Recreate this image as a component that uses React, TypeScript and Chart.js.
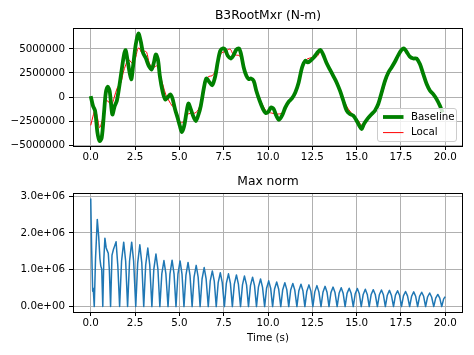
import React, { useEffect, useRef } from "react";
import { Chart, registerables } from "chart.js";

Chart.register(...registerables);

const FONT = "'DejaVu Sans', sans-serif";

const topTitle = "B3RootMxr (N-m)";
const bottomTitle = "Max norm";
const xAxisTitle = "Time (s)";
const seriesNames = ["Baseline", "Local"];
const xTicks = [0, 2.5, 5, 7.5, 10, 12.5, 15, 17.5, 20];
const topYTicks = [-5000000, -2500000, 0, 2500000, 5000000];
const bottomYTicks = [0, 1000000, 2000000, 3000000];

// [time (s), moment (MN-m)]
const baselineMNm: [number, number][] = [
  [0, 0.1], [0.13, -0.93], [0.25, -1.45], [0.38, -3.7], [0.5, -4.55], [0.62, -4.2], [0.75, -1.6], [0.85, 0.45],
  [0.96, 1.07], [1.07, 0.6], [1.22, -1.8], [1.35, -0.93], [1.47, -0.4], [1.6, 0.97], [1.75, 2.86], [1.88, 4.4],
  [1.97, 4.86], [2.1, 3.55], [2.28, 1.83], [2.4, 3.38], [2.54, 5.45], [2.69, 6.59], [2.82, 5.8], [2.95, 4.59],
  [3.1, 4.07], [3.26, 3.28], [3.43, 2.86], [3.56, 3.55], [3.67, 4.42], [3.79, 3.9], [3.9, 2.17], [4.05, 0.62],
  [4.2, -0.24], [4.33, -0.07], [4.48, 0.28], [4.6, -0.07], [4.76, -1.28], [4.9, -2.14], [5.03, -3.0], [5.14, -3.62],
  [5.27, -3.0], [5.4, -1.62], [5.51, -0.66], [5.65, -1.28], [5.78, -1.97], [5.93, -2.48], [6.08, -1.8], [6.21, -0.9],
  [6.4, 1.1], [6.52, 1.93], [6.71, 1.52], [6.86, 1.24], [7.03, 2.2], [7.16, 3.59], [7.31, 4.8], [7.46, 5.04],
  [7.59, 4.9], [7.73, 4.28], [7.91, 4.0], [8.06, 4.35], [8.21, 4.9], [8.36, 5.04], [8.48, 4.45], [8.63, 3.07],
  [8.78, 2.2], [8.91, 1.86], [9.04, 1.93], [9.19, 1.69], [9.34, 0.66], [9.53, -0.38], [9.72, -1.24], [9.87, -1.66],
  [10.02, -1.52], [10.17, -1.07], [10.32, -1.24], [10.47, -1.93], [10.62, -2.35], [10.79, -1.93], [10.98, -1.07],
  [11.17, -0.48], [11.35, -0.14], [11.54, 0.48], [11.73, 1.52], [11.92, 3.07], [12.1, 3.76], [12.24, 3.59],
  [12.39, 3.76], [12.58, 4.1], [12.76, 4.55], [12.95, 4.9], [13.1, 4.45], [13.29, 3.59], [13.48, 2.9], [13.68, 2.2],
  [13.87, 1.52], [14.06, 0.66], [14.25, -0.38], [14.44, -1.41], [14.62, -1.76], [14.81, -1.93], [15.0, -2.45],
  [15.15, -2.97], [15.28, -3.31], [15.41, -2.8], [15.6, -2.28], [15.85, -1.76], [16.03, -1.41], [16.22, -0.72],
  [16.41, 0.48], [16.6, 1.69], [16.79, 2.55], [16.97, 3.07], [17.16, 3.66], [17.35, 4.35], [17.54, 4.9], [17.67, 5.04],
  [17.82, 4.69], [18.0, 4.2], [18.2, 4.0], [18.38, 4.0], [18.57, 3.42], [18.76, 2.38], [18.95, 1.35], [19.14, 0.66],
  [19.32, 0.31], [19.51, -0.21], [19.7, -0.9], [19.85, -1.6],
];

// [time (s), moment (MN-m)]
const localMNm: [number, number][] = [
  [0, -2.93], [0.13, -1.97], [0.25, -1.28], [0.38, -2.14], [0.5, -3.17], [0.66, -2.3], [0.85, -0.41], [0.96, -0.4],
  [1.07, -0.66], [1.19, -0.76], [1.32, -0.07], [1.5, 0.97], [1.7, 1.48], [1.83, 2.52], [1.98, 3.38], [2.13, 3.9],
  [2.32, 3.55], [2.5, 3.9], [2.64, 4.93], [2.73, 5.1], [2.88, 4.59], [3.0, 4.76], [3.15, 4.66], [3.3, 3.55],
  [3.49, 3.04], [3.67, 3.2], [3.83, 3.28], [3.96, 2.0], [4.09, 1.14], [4.23, 0.28], [4.42, -0.41], [4.6, -0.93],
  [4.79, -1.28], [4.94, -2.04], [5.07, -2.66], [5.27, -2.48], [5.45, -1.8], [5.64, -1.69], [5.83, -1.69], [6.02, -1.45],
  [6.21, -0.6], [6.47, 1.52], [6.65, 2.14], [6.84, 2.2], [7.03, 2.73], [7.22, 3.93], [7.4, 4.62], [7.59, 4.69],
  [7.73, 4.9], [7.88, 4.95], [8.03, 4.45], [8.21, 4.35], [8.4, 4.28], [8.59, 3.42], [8.82, 2.2], [9.0, 1.93],
  [9.23, 1.35], [9.47, 0.14], [9.72, -0.9], [9.94, -1.52], [10.22, -1.66], [10.5, -1.76], [10.79, -1.66], [11.03, -1.07],
  [11.26, -0.38], [11.54, 0.48], [11.79, 2.04], [12.01, 3.42], [12.2, 3.93], [12.48, 4.1], [12.76, 4.2], [12.95, 4.69],
  [13.14, 4.35], [13.42, 3.24], [13.63, 2.55], [13.87, 1.69], [14.25, -0.21], [14.53, -1.24], [14.81, -1.86],
  [15.09, -2.45], [15.28, -2.9], [15.47, -2.69], [15.75, -2.1], [16.03, -1.41], [16.32, -0.38], [16.6, 1.35],
  [16.79, 2.38], [17.07, 3.24], [17.35, 4.2], [17.59, 4.97], [17.78, 4.8], [18.0, 4.1], [18.29, 4.0], [18.53, 3.42],
  [18.85, 1.86], [19.14, 0.66], [19.42, -0.03], [19.7, -0.9], [19.85, -1.5],
];

// [time (s), max norm (x 1e6)]
const maxNormE6: [number, number][] = [
  [0, 2.94], [0.05, 1.6], [0.11, 0.42], [0.14, 0.5], [0.2, 0], [0.27, 1.3], [0.37, 2.37], [0.45, 1.9],
  [0.52, 1.3], [0.57, 1.1], [0.62, 1.02], [0.68, 0], [0.74, 1.3], [0.8, 1.86], [0.87, 1.6], [0.93, 1.52],
  [0.99, 1.45], [1.05, 1.0], [1.12, 0], [1.2, 1.4], [1.28, 1.55], [1.35, 1.65], [1.43, 1.76], [1.53, 1.1],
  [1.63, 0], [1.74, 1.24], [1.86, 1.75], [1.97, 1.24],
  [2.08, 0], [2.19, 1.24], [2.31, 1.75], [2.42, 1.24],
  [2.54, 0], [2.65, 1.19], [2.77, 1.68], [2.88, 1.19],
  [2.99, 0], [3.1, 1.13], [3.22, 1.59], [3.33, 1.13],
  [3.45, 0], [3.56, 1.02], [3.68, 1.43], [3.79, 1.02],
  [3.9, 0], [4.01, 0.89], [4.13, 1.25], [4.24, 0.89],
  [4.36, 0], [4.47, 0.89], [4.59, 1.26], [4.7, 0.89],
  [4.81, 0], [4.92, 0.88], [5.04, 1.24], [5.15, 0.88],
  [5.26, 0], [5.37, 0.85], [5.49, 1.2], [5.6, 0.85],
  [5.72, 0], [5.83, 0.8], [5.95, 1.12], [6.06, 0.8],
  [6.17, 0], [6.28, 0.75], [6.4, 1.06], [6.51, 0.75],
  [6.63, 0], [6.74, 0.69], [6.86, 0.97], [6.97, 0.69],
  [7.08, 0], [7.19, 0.65], [7.31, 0.92], [7.42, 0.65],
  [7.54, 0], [7.65, 0.63], [7.77, 0.89], [7.88, 0.63],
  [7.99, 0], [8.1, 0.61], [8.22, 0.86], [8.33, 0.61],
  [8.45, 0], [8.56, 0.59], [8.67, 0.83], [8.79, 0.59],
  [8.9, 0], [9.01, 0.57], [9.13, 0.8], [9.24, 0.57],
  [9.35, 0], [9.46, 0.53], [9.58, 0.75], [9.69, 0.53],
  [9.81, 0], [9.92, 0.5], [10.04, 0.7], [10.15, 0.5],
  [10.26, 0], [10.37, 0.48], [10.49, 0.67], [10.6, 0.48],
  [10.72, 0], [10.83, 0.46], [10.95, 0.65], [11.06, 0.46],
  [11.17, 0], [11.28, 0.45], [11.4, 0.63], [11.51, 0.45],
  [11.63, 0], [11.74, 0.43], [11.86, 0.61], [11.97, 0.43],
  [12.08, 0], [12.19, 0.42], [12.31, 0.59], [12.42, 0.42],
  [12.53, 0], [12.64, 0.4], [12.76, 0.57], [12.87, 0.4],
  [12.99, 0], [13.1, 0.39], [13.22, 0.55], [13.33, 0.39],
  [13.44, 0], [13.55, 0.38], [13.67, 0.53], [13.78, 0.38],
  [13.9, 0], [14.01, 0.36], [14.13, 0.51], [14.24, 0.36],
  [14.35, 0], [14.46, 0.36], [14.58, 0.5], [14.69, 0.36],
  [14.81, 0], [14.92, 0.35], [15.04, 0.49], [15.15, 0.35],
  [15.26, 0], [15.37, 0.33], [15.49, 0.47], [15.6, 0.33],
  [15.71, 0], [15.82, 0.33], [15.94, 0.46], [16.05, 0.33],
  [16.17, 0], [16.28, 0.32], [16.4, 0.45], [16.51, 0.32],
  [16.62, 0], [16.73, 0.31], [16.85, 0.44], [16.96, 0.31],
  [17.08, 0], [17.19, 0.31], [17.31, 0.43], [17.42, 0.31],
  [17.53, 0], [17.64, 0.29], [17.76, 0.41], [17.87, 0.29],
  [17.99, 0], [18.1, 0.28], [18.22, 0.4], [18.33, 0.28],
  [18.44, 0], [18.55, 0.28], [18.67, 0.39], [18.78, 0.28],
  [18.89, 0], [19.0, 0.26], [19.12, 0.37], [19.23, 0.26],
  [19.35, 0], [19.46, 0.23], [19.58, 0.33], [19.69, 0.23],
  [19.8, 0], [19.91, 0.21], [20.0, 0.27],
];

const toPoints = (pts: [number, number][], scale: number) =>
  pts.map(([x, y]) => ({ x, y: y * scale }));

const framePlugin = {
  id: "mplFrame",
  afterDatasetsDraw(chart: any) {
    const { ctx, chartArea: a } = chart;
    const l = Math.round(a.left), t = Math.round(a.top), r = Math.round(a.right), b = Math.round(a.bottom);
    ctx.save();
    ctx.strokeStyle = "#000";
    ctx.lineWidth = 1;
    ctx.strokeRect(l + 0.5, t + 0.5, r - l - 1, b - t);
    ctx.restore();
  },
};

const legendPlugin = {
  id: "mplLegend",
  afterDraw(chart: any) {
    const { ctx, chartArea: a } = chart;
    const w = 79, h = 33;
    const x0 = Math.round(a.right) - 86 + 0.5;
    const y0 = Math.round(a.bottom) - 38 + 0.5;
    ctx.save();
    ctx.beginPath();
    const r = 2.5;
    ctx.moveTo(x0 + r, y0);
    ctx.lineTo(x0 + w - r, y0);
    ctx.quadraticCurveTo(x0 + w, y0, x0 + w, y0 + r);
    ctx.lineTo(x0 + w, y0 + h - r);
    ctx.quadraticCurveTo(x0 + w, y0 + h, x0 + w - r, y0 + h);
    ctx.lineTo(x0 + r, y0 + h);
    ctx.quadraticCurveTo(x0, y0 + h, x0, y0 + h - r);
    ctx.lineTo(x0, y0 + r);
    ctx.quadraticCurveTo(x0, y0, x0 + r, y0);
    ctx.closePath();
    ctx.fillStyle = "rgba(255,255,255,0.8)";
    ctx.fill();
    ctx.strokeStyle = "#cccccc";
    ctx.lineWidth = 1;
    ctx.stroke();
    chart.data.datasets.forEach((ds: any, i: number) => {
      const cy = y0 + 8.5 + i * 15.6;
      ctx.beginPath();
      ctx.strokeStyle = ds.borderColor;
      ctx.lineWidth = ds.borderWidth;
      ctx.lineCap = "butt";
      ctx.moveTo(x0 + 5.5, cy);
      ctx.lineTo(x0 + 26, cy);
      ctx.stroke();
      ctx.fillStyle = "#000";
      ctx.font = `10.3px ${FONT}`;
      ctx.textBaseline = "middle";
      ctx.textAlign = "left";
      ctx.fillText(ds.label, x0 + 33.5, cy);
    });
    ctx.restore();
  },
};

const gridCfg = {
  color: "#b0b0b0",
  lineWidth: 1,
  tickColor: "#000",
  tickLength: 4,
  tickWidth: 1,
  drawTicks: true,
};

function xScale(withTitle: boolean, height: number) {
  return {
    type: "linear" as const,
    min: -1,
    max: 21,
    afterBuildTicks: (s: any) => {
      s.ticks = xTicks.map((v) => ({ value: v }));
    },
    afterFit: (s: any) => {
      s.height = height;
    },
    grid: gridCfg,
    border: { display: false },
    ticks: {
      font: { size: 10.3, family: FONT },
      color: "#000",
      padding: 1.5,
      maxRotation: 0,
      autoSkip: false,
      callback: (v: any) => Number(v).toFixed(1),
    },
    title: withTitle
      ? {
          display: true,
          text: xAxisTitle,
          color: "#000",
          font: { size: 10.3, family: FONT },
          padding: { top: 0, bottom: 10.3 },
        }
      : { display: false },
  };
}

function yScale(min: number, max: number, ticks: number[], fmt: (v: number) => string) {
  return {
    type: "linear" as const,
    min,
    max,
    afterBuildTicks: (s: any) => {
      s.ticks = ticks.map((v) => ({ value: v }));
    },
    afterFit: (s: any) => {
      s.width = 73;
    },
    grid: gridCfg,
    border: { display: false },
    ticks: {
      font: { size: 10.3, family: FONT },
      color: "#000",
      padding: 4,
      autoSkip: false,
      callback: (v: any) => fmt(Number(v)),
    },
  };
}

const fmtPlain = (v: number) => (v === 0 ? "0" : (v < 0 ? "\u2212" : "") + String(Math.abs(v)));
const fmtSci = (v: number) => (v === 0 ? "0.0e+00" : (v / 1e6).toFixed(1) + "e+06");

export default function App() {
  const topRef = useRef<HTMLCanvasElement | null>(null);
  const botRef = useRef<HTMLCanvasElement | null>(null);

  useEffect(() => {
    Chart.defaults.font.family = FONT;
    const top = new Chart(topRef.current as HTMLCanvasElement, {
      type: "line",
      data: {
        datasets: [
          {
            label: seriesNames[0],
            data: toPoints(baselineMNm, 1e6),
            borderColor: "#008000",
            borderWidth: 3.8,
            pointRadius: 0,
            tension: 0.3,
            fill: false,
            borderJoinStyle: "round",
          },
          {
            label: seriesNames[1],
            data: toPoints(localMNm, 1e6),
            borderColor: "#ff0000",
            borderWidth: 1,
            pointRadius: 0,
            tension: 0.3,
            fill: false,
          },
        ],
      },
      options: {
        responsive: false,
        maintainAspectRatio: false,
        devicePixelRatio: 1,
        animation: false,
        events: [],
        layout: { padding: { left: 0, right: 11, top: 0, bottom: 0 } },
        plugins: {
          legend: { display: false },
          tooltip: { enabled: false },
          title: {
            display: true,
            text: topTitle,
            fullSize: false,
            color: "#000",
            font: { size: 12.3, family: FONT, weight: "normal" },
            padding: { top: 8.6, bottom: 4.64 },
          },
        },
        scales: {
          x: xScale(false, 19),
          y: yScale(-5070000, 7160000, topYTicks, fmtPlain),
        },
      } as any,
      plugins: [framePlugin, legendPlugin],
    });

    const bot = new Chart(botRef.current as HTMLCanvasElement, {
      type: "line",
      data: {
        datasets: [
          {
            label: "Max norm",
            data: toPoints(maxNormE6, 1e6),
            borderColor: "#1f77b4",
            borderWidth: 1.5,
            pointRadius: 0,
            tension: 0,
            fill: false,
            borderJoinStyle: "round",
          },
        ],
      },
      options: {
        responsive: false,
        maintainAspectRatio: false,
        devicePixelRatio: 1,
        animation: false,
        events: [],
        layout: { padding: { left: 0, right: 11, top: 0, bottom: 0 } },
        plugins: {
          legend: { display: false },
          tooltip: { enabled: false },
          title: {
            display: true,
            text: bottomTitle,
            fullSize: false,
            color: "#000",
            font: { size: 12.3, family: FONT, weight: "normal" },
            padding: { top: 9.8, bottom: 3.44 },
          },
        },
        scales: {
          x: xScale(true, 43),
          y: yScale(-147000, 3087000, bottomYTicks, fmtSci),
        },
      } as any,
      plugins: [framePlugin],
    });

    return () => {
      top.destroy();
      bot.destroy();
    };
  }, []);

  return (
    <div style={{ position: "fixed", left: 0, top: 0, width: 474, height: 355, background: "#fff" }}>
      <canvas
        ref={topRef}
        width={474}
        height={165}
        style={{ position: "absolute", left: 0, top: 0, width: 474, height: 165, display: "block" }}
      />
      <canvas
        ref={botRef}
        width={474}
        height={190}
        style={{ position: "absolute", left: 0, top: 165, width: 474, height: 190, display: "block" }}
      />
    </div>
  );
}
